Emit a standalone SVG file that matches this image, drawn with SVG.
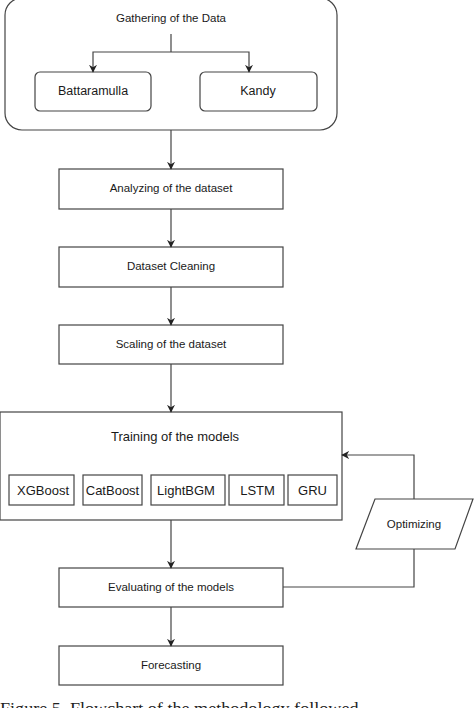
<svg xmlns="http://www.w3.org/2000/svg" width="474" height="708" viewBox="0 0 474 708">
<defs>
<marker id="ah" viewBox="0 0 10 10" refX="9" refY="5" markerWidth="8" markerHeight="8" markerUnits="userSpaceOnUse" orient="auto">
<path d="M0,0 L10,5 L0,10 L3,5 Z" fill="#222"/>
</marker>
<style>
.box{fill:#fff;stroke:#444;stroke-width:1.2}
.t{font-family:"Liberation Sans",Arial,sans-serif;fill:#1a1a1a;text-anchor:middle;dominant-baseline:central}
.s11{font-size:11.5px}
.s12{font-size:12.5px}
.s13{font-size:13px}
.c{fill:none;stroke:#444;stroke-width:1.2}
</style>
</defs>
<rect width="474" height="708" fill="#fff"/>
<g id="gathering">
<rect class="box" x="5" y="-2" width="332" height="132" rx="17"/>
<text class="t s11" x="171" y="18">Gathering of the Data</text>
</g>
<g id="battaramulla">
<rect class="box" x="35" y="72" width="116" height="39" rx="5"/>
<text class="t s12" x="93" y="91">Battaramulla</text>
</g>
<g id="kandy">
<rect class="box" x="200" y="72" width="117" height="39" rx="5"/>
<text class="t s12" x="258" y="91">Kandy</text>
</g>
<g id="analyzing">
<rect class="box" x="59" y="169" width="224" height="40"/>
<text class="t s11" x="171" y="188">Analyzing of the dataset</text>
</g>
<g id="cleaning">
<rect class="box" x="59" y="247" width="224" height="40"/>
<text class="t s11" x="171" y="266">Dataset Cleaning</text>
</g>
<g id="scaling">
<rect class="box" x="59" y="325" width="224" height="39"/>
<text class="t s11" x="171" y="344">Scaling of the dataset</text>
</g>
<g id="training">
<rect class="box" x="0" y="412" width="342" height="108"/>
<text class="t s13" x="175" y="436">Training of the models</text>
</g>
<g id="xgboost">
<rect class="box" x="9" y="475" width="65" height="30"/>
<text class="t s13" x="43" y="490">XGBoost</text>
</g>
<g id="catboost">
<rect class="box" x="83" y="475" width="59" height="30"/>
<text class="t s13" x="112.5" y="490">CatBoost</text>
</g>
<g id="lightbgm">
<rect class="box" x="151" y="475" width="74" height="30"/>
<text class="t s13" x="186" y="490">LightBGM</text>
</g>
<g id="lstm">
<rect class="box" x="229" y="475" width="55" height="30"/>
<text class="t s13" x="257.5" y="490">LSTM</text>
</g>
<g id="gru">
<rect class="box" x="288" y="475" width="49" height="30"/>
<text class="t s13" x="312.5" y="490">GRU</text>
</g>
<g id="optimizing">
<polygon class="box" points="375,499 473,499 455,549 356,549"/>
<text class="t s11" x="414" y="524">Optimizing</text>
</g>
<g id="evaluating">
<rect class="box" x="59" y="568" width="224" height="39"/>
<text class="t s11" x="171" y="587">Evaluating of the models</text>
</g>
<g id="forecasting">
<rect class="box" x="59" y="646" width="224" height="39"/>
<text class="t s11" x="171" y="665">Forecasting</text>
</g>
<g id="connectors">
<path class="c" d="M171,34 V52"/>
<path class="c" d="M171,52 H93 V72" marker-end="url(#ah)"/>
<path class="c" d="M171,52 H249 V72" marker-end="url(#ah)"/>
<path class="c" d="M171,130 V169" marker-end="url(#ah)"/>
<path class="c" d="M171,209 V247" marker-end="url(#ah)"/>
<path class="c" d="M171,287 V325" marker-end="url(#ah)"/>
<path class="c" d="M171,364 V412" marker-end="url(#ah)"/>
<path class="c" d="M171,520 V568" marker-end="url(#ah)"/>
<path class="c" d="M171,607 V646" marker-end="url(#ah)"/>
<path class="c" d="M283,587 H414 V549"/>
<path class="c" d="M414,499 V455 H342" marker-end="url(#ah)"/>
</g>
<text x="0" y="714" font-family="Liberation Serif,'Times New Roman',serif" font-size="17" fill="#222" textLength="363" lengthAdjust="spacingAndGlyphs">Figure 5. Flowchart of the methodology followed.</text>
</svg>
